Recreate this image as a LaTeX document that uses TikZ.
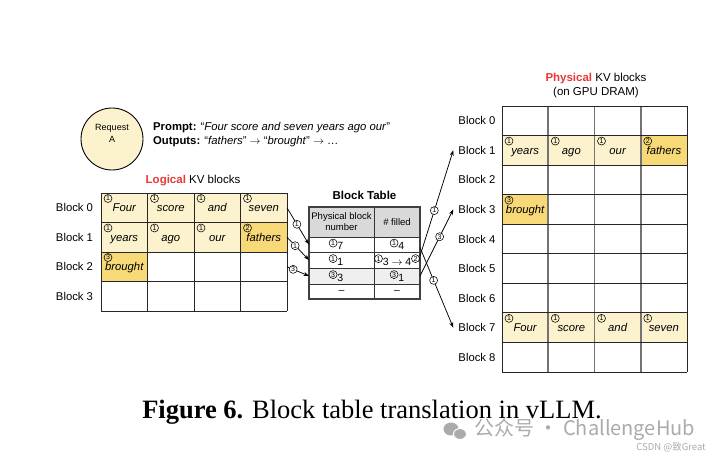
\documentclass[tikz,border=0pt]{standalone}
\usepackage{fontspec}
\setmainfont{Liberation Sans}
\newfontfamily\capfont{Liberation Serif}
\newfontfamily\cjkfont{Noto Sans CJK SC}
\usetikzlibrary{arrows.meta,calc}
\definecolor{lyel}{HTML}{FDF2CE}
\definecolor{dyel}{HTML}{F7D977}
\definecolor{hgray}{HTML}{D9D9D9}
\definecolor{rgray}{HTML}{EFEFEF}
\definecolor{lred}{HTML}{E8383A}
\definecolor{wm}{HTML}{ABABAB}
\tikzset{
  lbl/.style={font=\fontsize{11.3}{13}\selectfont, inner sep=0pt},
  word/.style={font=\fontsize{11.3}{13}\selectfont\itshape, inner sep=0pt, anchor=base},
  cnum/.style={circle, draw, line width=0.55pt, inner sep=0pt, minimum size=8pt, font=\fontsize{7}{7}\selectfont},
  acnum/.style={cnum, fill=white},
  conn/.style={line width=0.75pt, -{Stealth[length=5.5pt,width=4pt]}},
  lcell/.style={minimum width=46.5pt, minimum height=29.5pt, inner sep=0pt, outer sep=0pt},
  pcell/.style={minimum width=46.25pt, minimum height=29.55pt, inner sep=0pt, outer sep=0pt},
  tcell/.style={inner sep=0pt, outer sep=0pt, minimum width=111pt},
  ttext/.style={font=\fontsize{10.5}{12}\selectfont, inner sep=0pt, anchor=base},
  gline/.style={line width=0.9pt, black!85},
  tline/.style={line width=0.9pt, black!80},
}
\newcommand\cn[1]{\tikz[baseline={(0,-4pt)}]\node[cnum]{#1};}
\begin{document}
\begin{tikzpicture}[x=1pt,y=-1pt]
\path[use as bounding box, fill=white] (0,0) rectangle (720,458);

% Request
\node[circle, draw, line width=0.9pt, fill=lyel, minimum size=62pt, inner sep=0pt] (req) at (112,139) {};
\node[font=\fontsize{9}{12}\selectfont, align=center, inner sep=0pt] (reqt) at (112,133.5) {Request\\A};
\node[anchor=base west, inner sep=0pt, font=\fontsize{11.3}{13}\selectfont] (prompt) at (153,130)
  {\textbf{Prompt:} “\textit{Four score and seven years ago our}”};
\node[anchor=base west, inner sep=0pt, font=\fontsize{11.3}{13}\selectfont] (outputs) at (153,144)
  {\textbf{Outputs:} “\textit{fathers}” $\to$ “\textit{brought}” $\to$ …};

% Logical KV blocks
\node[lbl, font=\fontsize{11.5}{13}\selectfont] (ltitle) at (193,181) {\textcolor{lred}{\textbf{Logical}} KV blocks};
\foreach \r in {0,...,3} {
  \node[lbl] (B\r) at (74.5,207.75+29.5*\r) {Block \r};
  \foreach \c in {0,...,3}
    \node[lcell] (L\r\c) at (101+46.5*\c+23.25, 193+29.5*\r+14.75) {};
}
\foreach \r/\c/\f in {0/0/lyel,0/1/lyel,0/2/lyel,0/3/lyel,1/0/lyel,1/1/lyel,1/2/lyel,1/3/dyel,2/0/dyel}
  \fill[\f] (L\r\c.north west) rectangle (L\r\c.south east);
\foreach \i in {0,...,4} {
  \draw[gline] (101,193+29.5*\i) -- (287,193+29.5*\i);
  \draw[gline] (101+46.5*\i,193) -- (101+46.5*\i,311);
}
\foreach \r/\c/\n/\w in {0/0/1/Four,0/1/1/score,0/2/1/and,0/3/1/seven,1/0/1/years,1/1/1/ago,1/2/1/our,1/3/2/fathers,2/0/3/brought} {
  \node[word] (Lw\r\c) at ($(L\r\c.north)+(0,18.7)$) {\w};
  \node[cnum] (Ln\r\c) at ($(L\r\c.north west)+(7,5.5)$) {\n};
}

% Physical KV blocks
\node[lbl, font=\fontsize{11.5}{13}\selectfont] (ptitle) at (596,79) {\textcolor{lred}{\textbf{Physical}} KV blocks};
\node[lbl, font=\fontsize{11.5}{13}\selectfont] (ptitle2) at (596,93) {(on GPU DRAM)};
\foreach \r in {0,...,8} {
  \node[lbl] (P\r) at (477,106+29.55*\r+14.78) {Block \r};
  \foreach \c in {0,...,3}
    \node[pcell] (Q\r\c) at (502+46.25*\c+23.125, 106+29.55*\r+14.78) {};
}
\foreach \r/\c/\f in {1/0/lyel,1/1/lyel,1/2/lyel,1/3/dyel,3/0/dyel,7/0/lyel,7/1/lyel,7/2/lyel,7/3/lyel}
  \fill[\f] (Q\r\c.north west) rectangle (Q\r\c.south east);
\foreach \i in {1,2,3}
  \draw[line width=1.6pt, black!55] (502+46.25*\i,106) -- (502+46.25*\i,372);
\foreach \i in {0,...,9}
  \draw[gline] (502,106+29.55*\i) -- (687,106+29.55*\i);
\draw[gline] (502,106) -- (502,372);
\draw[gline] (687,106) -- (687,372);
\foreach \r/\c/\n/\w in {1/0/1/years,1/1/1/ago,1/2/1/our,1/3/2/fathers,3/0/3/brought,7/0/1/Four,7/1/1/score,7/2/1/and,7/3/1/seven} {
  \node[word] (Qw\r\c) at ($(Q\r\c.north)+(0,18.7)$) {\w};
  \node[cnum] (Qn\r\c) at ($(Q\r\c.north west)+(7,5.5)$) {\n};
}

% Block table
\node[font=\bfseries\fontsize{11.5}{13}\selectfont, inner sep=0pt] (ttitle) at (364.5,195) {Block Table};
\node[tcell, minimum height=30pt] (T0) at (364.5,222) {};
\node[tcell, minimum height=15pt] (T1) at (364.5,244.5) {};
\node[tcell, minimum height=16pt] (T2) at (364.5,260) {};
\node[tcell, minimum height=16pt] (T3) at (364.5,276) {};
\node[tcell, minimum height=15pt] (T4) at (364.5,291.5) {};
\fill[hgray] (T0.north west) rectangle (T0.south east);
\fill[rgray] (T3.north west) rectangle (T3.south east);
\foreach \y in {237,252,268,284}
  \draw[tline] (309,\y) -- (420,\y);
\draw[tline] (374,207) -- (374,299);
\draw[line width=1.2pt, black!75] (T0.north west) rectangle (T4.south east);
\node[inner sep=0pt, font=\fontsize{9.5}{11}\selectfont, align=center] (th0) at (341.5,222) {Physical block\\number};
\node[inner sep=0pt, font=\fontsize{9.5}{11}\selectfont] (th1) at (397,222) {\# filled};
\node[ttext] (t10) at (336,249.5) {\cn{1}7};
\node[ttext] (t11) at (397,249.5) {\cn{1}4};
\node[ttext] (t20) at (336,265) {\cn{1}1};
\node[ttext] (t21) at (397,265) {\cn{1}3 $\to$ 4\cn{2}};
\node[ttext] (t30) at (336,281) {\cn{3}3};
\node[ttext] (t31) at (397,281) {\cn{3}1};
\node[inner sep=0pt, font=\fontsize{10.5}{12}\selectfont] (t40) at (341.5,291.5) {–};
\node[inner sep=0pt, font=\fontsize{10.5}{12}\selectfont] (t41) at (397,291.5) {–};

% connectors logical -> table
\draw[conn] (L03.east) -- node[acnum, pos=0.45] (a1) {1} (T1.west);
\draw[conn] (L13.east) -- node[acnum, pos=0.37] (a2) {1} (T2.west);
\draw[conn] (L23.east) -- node[acnum, pos=0.28] (a3) {3} (T3.west);
% connectors table -> physical
\draw[conn] ($(T2.east)+(0,-4)$) -- node[acnum, pos=0.43] (b1) {1} ($(P1.west)+(-5,0)$);
\draw[conn] (T3.east) -- node[acnum, pos=0.59] (b3) {3} ($(P3.west)+(-5,0)$);
\draw[conn] ($(T1.east)+(0,3)$) -- node[acnum, pos=0.41] (b7) {1} ($(P7.west)+(-5,0)$);

% caption
\node[font=\capfont\fontsize{26.5}{30}\selectfont, inner sep=0pt] (cap) at (372,412) {\textbf{Figure 6.} Block table translation in vLLM.};

% watermark
\fill[wm] (451,429) ellipse (7.5 and 6.5);
\draw[white, line width=1pt, fill=wm] (460,434) ellipse (6.5 and 5.5);
\node[font=\cjkfont\fontsize{20}{22}\selectfont, text=wm, anchor=west, inner sep=0pt] (wm1) at (474,430) {公众号 · ChallengeHub};
\node[font=\cjkfont\fontsize{9.5}{11}\selectfont, text=wm, anchor=east, inner sep=0pt] (wm2) at (706,447) {CSDN @致Great};
\end{tikzpicture}
\end{document}
